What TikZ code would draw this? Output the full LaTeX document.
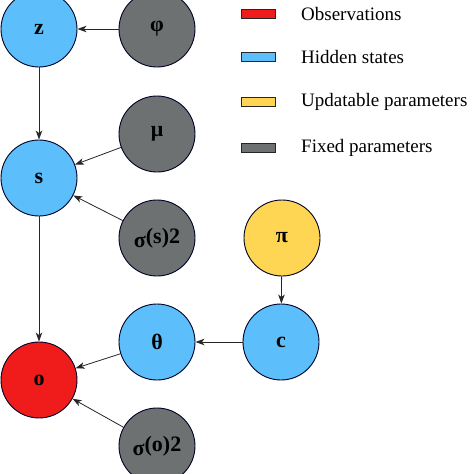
\documentclass[tikz,border=0pt]{standalone}
\usepackage{fontspec}
\setmainfont{Liberation Serif}
\usepackage{xcolor}
\usetikzlibrary{shapes,arrows,arrows.meta,positioning}

\definecolor{obscol}{RGB}{240,28,28}
\definecolor{hidcol}{RGB}{92,190,250}
\definecolor{updcol}{RGB}{255,214,84}
\definecolor{fixcol}{RGB}{110,113,113}

\begin{document}
\begin{tikzpicture}[
    x=1pt, y=1pt,
    var/.style={draw=black!85!blue, line width=0.9pt, circle, minimum size=76pt, inner sep=0pt,
        font=\fontsize{22}{22}\selectfont\bfseries},
    obs/.style={var, fill=obscol},
    hid/.style={var, fill=hidcol},
    upd/.style={var, fill=updcol},
    fix/.style={var, fill=fixcol},
    key/.style={draw=black!85, line width=0.8pt, rectangle, minimum width=34pt, minimum height=9pt, inner sep=0pt},
    keytext/.style={anchor=west, inner sep=0pt, font=\fontsize{19}{19}\selectfont},
    arrow/.style={-{Stealth[length=9pt, width=6.5pt, inset=2.5pt]}, line width=0.8pt, black!85}
]
    \useasboundingbox (0,0) rectangle (474,-474);
    \clip (0,0) rectangle (474,-474);

    % Variables
    \node[hid] (z) at (39,-29) {z};
    \node[fix, right of=z, node distance=118pt] (phi) {φ};
    \node[hid, below of=z, node distance=149pt] (s) {s};
    \node[fix] (mu) at (157,-134) {μ};
    \node[fix] (sigs) at (157,-238) {σ\raisebox{4pt}{(s)2}};
    \node[upd, right of=sigs, node distance=125pt] (pi) {π};
    \node[obs] (o) at (39,-380) {o};
    \node[hid] (theta) at (157,-342) {θ};
    \node[hid, right of=theta, node distance=124pt] (c) {c};
    \node[fix] (sigo) at (157,-446) {σ\raisebox{4pt}{(o)2}};

    % Arrows
    \draw[arrow] (phi) -- (z);
    \draw[arrow] (z) -- (s);
    \draw[arrow] (mu) -- (s);
    \draw[arrow] (sigs) -- (s);
    \draw[arrow] (s) -- (o);
    \draw[arrow] (theta) -- (o);
    \draw[arrow] (sigo) -- (o);
    \draw[arrow] (c) -- (theta);
    \draw[arrow] (pi) -- (c);

    % Legend
    \node[key, fill=obscol] (kobs) at (258,-14) {};
    \node[key, fill=hidcol] (khid) at (258,-57) {};
    \node[key, fill=updcol] (kupd) at (258,-102) {};
    \node[key, fill=fixcol] (kfix) at (258,-148) {};
    \node[keytext] (tobs) at (301,-14) {Observations};
    \node[keytext] (thid) at (301,-57) {Hidden states};
    \node[keytext] (tupd) at (301,-102) {Updatable parameters};
    \node[keytext] (tfix) at (301,-148) {Fixed parameters};

\end{tikzpicture}
\end{document}
